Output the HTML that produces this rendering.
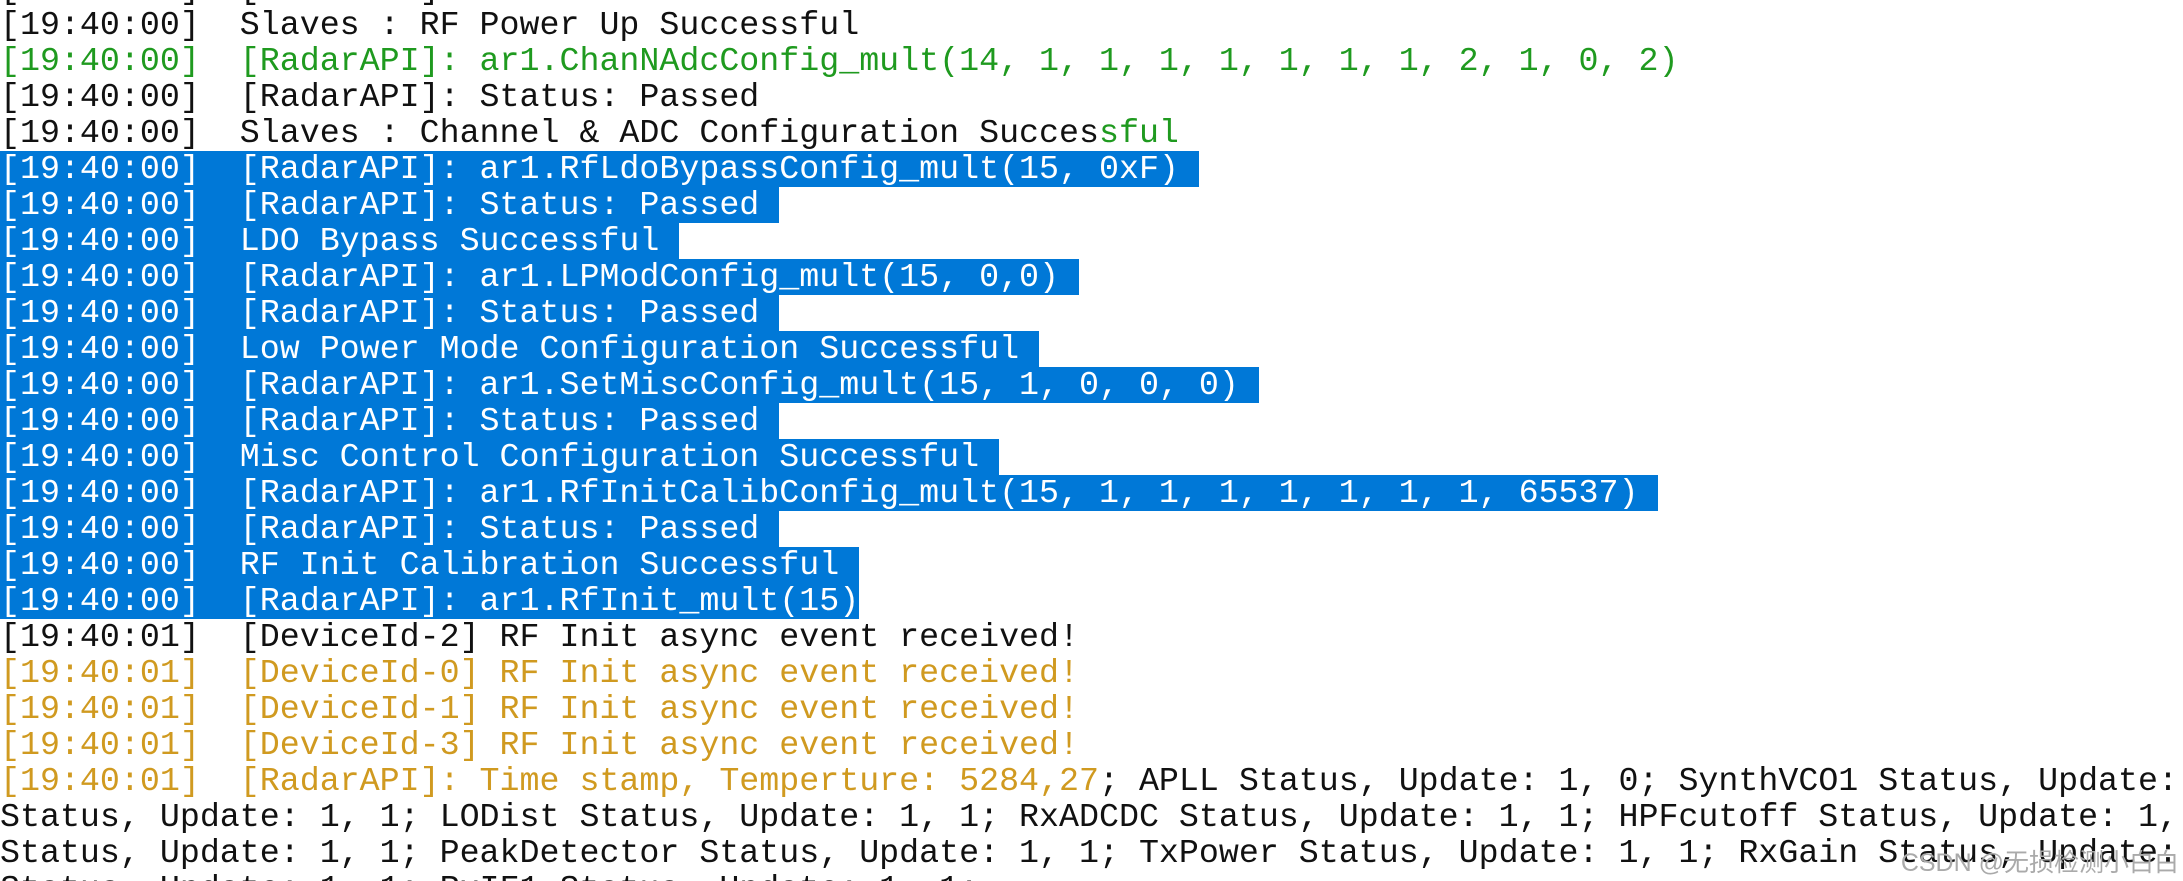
<!DOCTYPE html>
<html><head><meta charset="utf-8"><style>
html,body{margin:0;padding:0;background:#fff;width:2183px;height:881px;overflow:hidden;position:relative}
#c{position:absolute;left:0;top:-29px;font-family:"Liberation Mono","Courier New",monospace;font-size:33.3px;line-height:36px;color:#111}
.l{height:36px;white-space:pre}
.h{background:#0078d7;color:#fff;display:inline-block;height:36px}
.g{color:#1f9a1f}
.o{color:#d09a20}
#wm{position:absolute;right:4px;top:843px;font-family:"Liberation Sans","Noto Sans CJK SC",sans-serif;font-size:25px;color:#aaa}
</style></head><body>
<div id="c">
<div class="l">[19:40:00]  [RadarAPI]: Status: Passed</div>
<div class="l">[19:40:00]  Slaves : RF Power Up Successful</div>
<div class="l g">[19:40:00]  [RadarAPI]: ar1.ChanNAdcConfig_mult(14, 1, 1, 1, 1, 1, 1, 1, 2, 1, 0, 2)</div>
<div class="l">[19:40:00]  [RadarAPI]: Status: Passed</div>
<div class="l">[19:40:00]  Slaves : Channel &amp; ADC Configuration Succes<span class="g">sful</span></div>
<div class="l"><span class="h">[19:40:00]  [RadarAPI]: ar1.RfLdoBypassConfig_mult(15, 0xF) </span></div>
<div class="l"><span class="h">[19:40:00]  [RadarAPI]: Status: Passed </span></div>
<div class="l"><span class="h">[19:40:00]  LDO Bypass Successful </span></div>
<div class="l"><span class="h">[19:40:00]  [RadarAPI]: ar1.LPModConfig_mult(15, 0,0) </span></div>
<div class="l"><span class="h">[19:40:00]  [RadarAPI]: Status: Passed </span></div>
<div class="l"><span class="h">[19:40:00]  Low Power Mode Configuration Successful </span></div>
<div class="l"><span class="h">[19:40:00]  [RadarAPI]: ar1.SetMiscConfig_mult(15, 1, 0, 0, 0) </span></div>
<div class="l"><span class="h">[19:40:00]  [RadarAPI]: Status: Passed </span></div>
<div class="l"><span class="h">[19:40:00]  Misc Control Configuration Successful </span></div>
<div class="l"><span class="h">[19:40:00]  [RadarAPI]: ar1.RfInitCalibConfig_mult(15, 1, 1, 1, 1, 1, 1, 1, 65537) </span></div>
<div class="l"><span class="h">[19:40:00]  [RadarAPI]: Status: Passed </span></div>
<div class="l"><span class="h">[19:40:00]  RF Init Calibration Successful </span></div>
<div class="l"><span class="h">[19:40:00]  [RadarAPI]: ar1.RfInit_mult(15)</span></div>
<div class="l">[19:40:01]  [DeviceId-2] RF Init async event received!</div>
<div class="l o">[19:40:01]  [DeviceId-0] RF Init async event received!</div>
<div class="l o">[19:40:01]  [DeviceId-1] RF Init async event received!</div>
<div class="l o">[19:40:01]  [DeviceId-3] RF Init async event received!</div>
<div class="l"><span class="o">[19:40:01]  [RadarAPI]: Time stamp, Temperture: 5284,27</span>; APLL Status, Update: 1, 0; SynthVCO1 Status, Update:</div>
<div class="l">Status, Update: 1, 1; LODist Status, Update: 1, 1; RxADCDC Status, Update: 1, 1; HPFcutoff Status, Update: 1,</div>
<div class="l">Status, Update: 1, 1; PeakDetector Status, Update: 1, 1; TxPower Status, Update: 1, 1; RxGain Status, Update:</div>
<div class="l">Status, Update: 1, 1; RxIF1 Status, Update: 1, 1;</div>
</div>
<div id="wm">CSDN @无损检测小白白</div>
</body></html>
